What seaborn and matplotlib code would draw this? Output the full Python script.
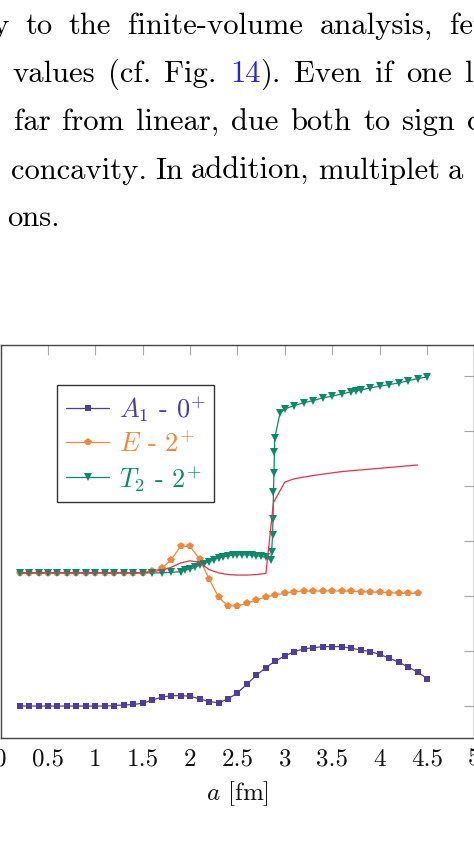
import numpy as np
import pandas as pd
import matplotlib
matplotlib.use("Agg")
import matplotlib.pyplot as plt
import seaborn as sns

# --- data ---
a_x = np.round(np.arange(0.2, 4.51, 0.1), 2)
a1_vals = [0, 0, 0, 0, 0, 0, 0, 0, 0,
           0.00, 0.01, 0.02, 0.03, 0.05, 0.11, 0.16, 0.19, 0.19, 0.18, 0.13,
           0.08, 0.06, 0.13, 0.24, 0.40, 0.56, 0.70, 0.82, 0.91, 0.99,
           1.04, 1.06, 1.08, 1.08, 1.08, 1.05, 1.02, 0.99, 0.94, 0.87,
           0.80, 0.71, 0.62, 0.50]

e_x = np.round(np.arange(0.2, 4.41, 0.1), 2)
e_vals = [2.42] * 14 + [
    2.46, 2.50, 2.66, 2.90, 2.90, 2.67, 2.31, 1.98, 1.82, 1.82,
    1.87, 1.93, 1.98, 2.02, 2.05, 2.08, 2.085, 2.09, 2.09, 2.09,
    2.09, 2.085, 2.08, 2.07, 2.07, 2.06, 2.05, 2.05, 2.05]

t2_x = list(np.round(np.arange(0.2, 1.91, 0.1), 2)) + [
    1.95, 2.0, 2.05, 2.1, 2.15, 2.2, 2.25, 2.3, 2.35, 2.4, 2.45, 2.5,
    2.55, 2.6, 2.65, 2.7, 2.75, 2.8, 2.85,
    2.86, 2.87, 2.875, 2.88, 2.885, 2.89, 2.893,
    2.95, 3.0, 3.1, 3.2, 3.3, 3.4, 3.5, 3.6, 3.7, 3.75, 3.8, 3.9,
    4.0, 4.1, 4.2, 4.3, 4.4, 4.5]
t2_vals = [2.42] * 16 + [2.43, 2.44] + [
    2.47, 2.49, 2.52, 2.56, 2.59, 2.62, 2.66, 2.69, 2.71, 2.73, 2.74, 2.75,
    2.75, 2.75, 2.74, 2.73, 2.72, 2.70, 2.66,
    2.80, 3.10, 3.40, 3.89, 4.24, 4.62, 4.87,
    5.33, 5.40, 5.46, 5.51, 5.55, 5.60, 5.63, 5.67, 5.71, 5.73, 5.74, 5.78,
    5.81, 5.84, 5.87, 5.91, 5.95, 5.98]

red_x = [0.2, 0.5, 1.0, 1.5, 1.6, 1.7, 1.8, 1.9, 2.0, 2.1, 2.2, 2.3, 2.4,
         2.5, 2.6, 2.7, 2.8, 2.88, 3.0, 3.1, 3.3, 3.6, 4.0, 4.4]
red_vals = [2.42, 2.42, 2.42, 2.42, 2.44, 2.47, 2.52, 2.60, 2.64, 2.61,
            2.48, 2.42, 2.39, 2.38, 2.38, 2.39, 2.41, 3.70, 4.07, 4.13,
            4.19, 4.26, 4.32, 4.38]

x_ticks = [0, 0.5, 1, 1.5, 2, 2.5, 3, 3.5, 4, 4.5, 5]
x_tick_labels = ["0", "0.5", "1", "1.5", "2", "2.5", "3", "3.5", "4", "4.5", "5"]
y_ticks = [0, 1, 2, 3, 4, 5, 6]

BLUE = "#2424d8"
# paragraph above the plot (cut on both sides)
text_lines = [
    "to the finite-volume analysis, few",
    "values (cf. Fig. 14). Even if one l",
    "far from linear, due both to sign changes",
    "concavity. In addition, multiplet a",
    "ons.",
]
text_cut_left = ["y", None, None, None, None]
text_start = [25, 12, 14, 11, 7]      # left edge of first word, px
text_fit = [(3, 433), (6, 452), (6, 455), (3, 440), None]   # (word idx, right edge px)
text_base = [34, 82, 130, 179, 226]

PURPLE = "#4f3d9c"
ORANGE = "#f0883a"
GREEN = "#0a8a6a"
RED = "#e6304c"

# --- style ---
sns.set_theme(style="white")
plt.rcParams["font.family"] = ["cmr10", "DejaVu Serif"]
plt.rcParams["mathtext.fontset"] = "cm"
plt.rcParams["axes.unicode_minus"] = False
plt.rcParams["axes.formatter.use_mathtext"] = True

W, H = 474, 845
fig = plt.figure(figsize=(W / 100, H / 100), dpi=100)
ax = fig.add_axes([0.6 / W, (H - 739) / H, 473.75 / W, 393 / H])

df_a = pd.DataFrame({"a": a_x, "E": a1_vals})
df_e = pd.DataFrame({"a": e_x, "E": e_vals})
df_t = pd.DataFrame({"a": t2_x, "E": t2_vals})
df_r = pd.DataFrame({"a": red_x, "E": red_vals})

sns.lineplot(data=df_a, x="a", y="E", color=PURPLE, marker="s", markersize=4.6,
             markeredgewidth=0, linewidth=0.9, label=r"$A_1$ - $0^{+}$", ax=ax)
sns.lineplot(data=df_e, x="a", y="E", color=ORANGE, marker="p", markersize=5.8,
             markeredgewidth=0, linewidth=0.9, label=r"$E$ - $2^{+}$", ax=ax)
sns.lineplot(data=df_t, x="a", y="E", color=GREEN, marker="v", markersize=5.6,
             markeredgewidth=0, linewidth=0.9, label=r"$T_2$ - $2^{+}$", ax=ax)
sns.lineplot(data=df_r, x="a", y="E", color=RED, linewidth=0.9, ax=ax)

ax.set_xlim(0, 5)
ax.set_ylim(-0.58, 6.56)
ax.set_xticks(x_ticks)
ax.set_xticklabels(x_tick_labels)
ax.set_yticks(y_ticks)
ax.set_yticklabels([])
ax.set_xlabel(r"$a$ [fm]", fontsize=18, labelpad=6, color="#111111")
ax.set_ylabel("")
ax.tick_params(direction="in", length=7.2, width=0.8, color="#a8a8a8",
               top=True, right=True, labelsize=18, pad=7, labelcolor="#111111")
for s in ax.spines.values():
    s.set_color("#444444")
    s.set_linewidth(1.0)

leg = ax.legend(loc="upper left", bbox_to_anchor=(0.12, 0.898), borderaxespad=0,
                fontsize=19, frameon=True, fancybox=False, framealpha=1,
                edgecolor="#333333", handlelength=1.65, handletextpad=0.35,
                labelspacing=0.28, borderpad=0.32, labelcolor="linecolor")
leg.get_frame().set_linewidth(1.0)

# paragraph text, justified between the measured word positions
FS = 22
renderer = fig.canvas.get_renderer()


def text_width(s):
    t = fig.text(0, 0, s, fontsize=FS)
    w = t.get_window_extent(renderer).width
    t.remove()
    return w


for line, cut, x0, fit, yb in zip(text_lines, text_cut_left, text_start,
                                  text_fit, text_base):
    words = line.split(" ")
    widths = [text_width(w) for w in words]
    if fit is None:
        gap = text_width(" ")
    else:
        k, x_end = fit
        gap = (x_end - x0 - sum(widths[:k + 1])) / k
    if cut:
        fig.text((x0 - gap) / W, 1 - yb / H, cut, fontsize=FS, ha="right",
                 va="baseline", color="black")
    x = x0
    for w, wd in zip(words, widths):
        if w == "14).":
            t = fig.text(x / W, 1 - yb / H, "14", fontsize=FS, ha="left",
                         va="baseline", color=BLUE)
            fig.text((x + t.get_window_extent(renderer).width) / W, 1 - yb / H,
                     ").", fontsize=FS, ha="left", va="baseline", color="black")
        else:
            fig.text(x / W, 1 - yb / H, w, fontsize=FS, ha="left",
                     va="baseline", color="black")
        x += wd + gap

fig.savefig("out.png", dpi=100)
